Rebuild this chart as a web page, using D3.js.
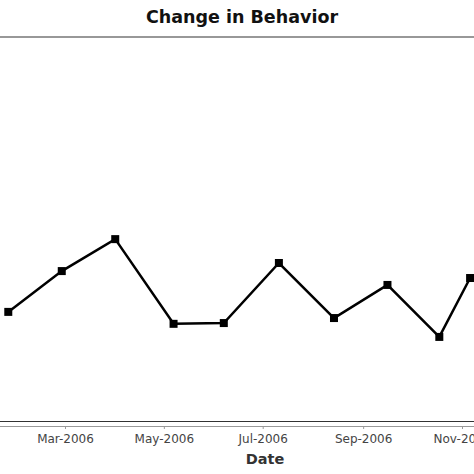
<!DOCTYPE html><html><head><meta charset="utf-8"><script src="https://cdn.jsdelivr.net/npm/d3@7"></script>
<style>body{margin:0;background:#fff}</style></head><body><svg id="c" width="474" height="474"></svg>
<script>
const dates = ["2006-01-25","2006-02-27","2006-04-01","2006-05-07","2006-06-07","2006-07-11","2006-08-14","2006-09-16","2006-10-18","2006-11-06"];
const values = [28.6,39.2,47.5,25.5,25.7,41.3,27.0,35.6,22.1,37.4];
const tickDates = ["2006-03-01","2006-05-01","2006-07-01","2006-09-01","2006-11-01"];
const parse = d3.utcParse("%Y-%m-%d");
const svg = d3.select("#c");
const x = d3.scaleUtc().domain([parse("2006-03-01"), parse("2006-11-01")]).range([65, 462]);
const y = d3.scaleLinear().domain([0,100]).range([422,37]);
svg.append("line").attr("x1",0).attr("x2",474).attr("y1",37).attr("y2",37).attr("stroke","#333").attr("stroke-width",1.2);
svg.append("line").attr("x1",0).attr("x2",474).attr("y1",421.5).attr("y2",421.5).attr("stroke","#333").attr("stroke-width",1.2);
const ax = svg.append("g").attr("transform","translate(0,426)")
  .call(d3.axisBottom(x).tickValues(tickDates.map(parse)).tickFormat(d3.utcFormat("%b-%Y")).tickSize(3).tickPadding(5));
ax.select(".domain").attr("stroke","#999").attr("d","M0,0.5H474");
ax.selectAll(".tick line").attr("stroke","#999");
ax.selectAll("text").attr("fill","#444").style("font-family","DejaVu Sans").style("font-size","12px");
svg.append("text").attr("x",265).attr("y",464).attr("text-anchor","middle").style("font-family","DejaVu Sans").style("font-weight","bold").style("font-size","14.5px").attr("fill","#333").text("Date");
svg.append("text").attr("x",242).attr("y",23).attr("text-anchor","middle").style("font-family","DejaVu Sans").style("font-weight","bold").style("font-size","17.5px").attr("fill","#111").text("Change in Behavior");
const data = dates.map((d,i)=>({d:parse(d),v:values[i]}));
svg.append("path").datum(data).attr("fill","none").attr("stroke","#000").attr("stroke-width",2.5)
  .attr("d", d3.line().x(d=>x(d.d)).y(d=>y(d.v)));
svg.selectAll("rect.p").data(data).join("rect").attr("class","p")
  .attr("x",d=>x(d.d)-4).attr("y",d=>y(d.v)-4).attr("width",8).attr("height",8).attr("fill","#000");
</script></body></html>
